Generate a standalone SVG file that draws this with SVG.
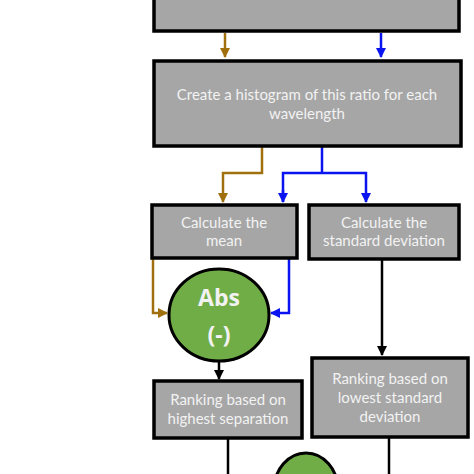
<svg xmlns="http://www.w3.org/2000/svg" width="474" height="474" viewBox="0 0 474 474">
<style>
.box{fill:#A6A6A6;stroke:#000;stroke-width:3.5}
.t{font-family:Lato,"Open Sans","Liberation Sans",sans-serif;font-size:15px;fill:#F2F2F2;text-anchor:middle}
.c{fill:#70AD47;stroke:#000;stroke-width:3}
.ct{font-family:"Open Sans","Liberation Sans",sans-serif;font-size:23px;font-weight:bold;fill:#F2F2F2;text-anchor:middle}
.k{fill:none;stroke:#000;stroke-width:2.5}
.br{fill:none;stroke:#A0700F;stroke-width:2.5}
.bl{fill:none;stroke:#0A14F0;stroke-width:2.5}
</style>
<defs>
<marker id="ak" viewBox="0 0 10 10" refX="9" refY="5" markerWidth="4" markerHeight="4" orient="auto" markerUnits="strokeWidth"><path d="M0,0L10,5L0,10z" fill="#000"/></marker>
<marker id="abr" viewBox="0 0 10 10" refX="9" refY="5" markerWidth="4" markerHeight="4" orient="auto" markerUnits="strokeWidth"><path d="M0,0L10,5L0,10z" fill="#A0700F"/></marker>
<marker id="abl" viewBox="0 0 10 10" refX="9" refY="5" markerWidth="4" markerHeight="4" orient="auto" markerUnits="strokeWidth"><path d="M0,0L10,5L0,10z" fill="#0A14F0"/></marker>
</defs>
<rect width="474" height="474" fill="#fff"/>
<g id="connectors">
<path class="br" d="M225,33V57" marker-end="url(#abr)"/>
<path class="bl" d="M381,33V57" marker-end="url(#abl)"/>
<path class="br" d="M262,147V173H223V202" marker-end="url(#abr)"/>
<path class="bl" d="M322,147V173"/>
<path class="bl" d="M283,202V173H366V202" marker-end="url(#abl)"/>
<path class="bl" d="M283,190V202" marker-end="url(#abl)"/>
<path class="br" d="M153,259V313H167" marker-end="url(#abr)"/>
<path class="bl" d="M289,259V313H271" marker-end="url(#abl)"/>
<path class="k" d="M219,361V379" marker-end="url(#ak)"/>
<path class="k" d="M382,260V355" marker-end="url(#ak)"/>
<path class="k" d="M228,439V474"/>
<path class="k" d="M389,438V474"/>
</g>
<g id="top-box"><rect class="box" x="154" y="-10" width="305" height="41"/></g>
<g id="histogram"><rect class="box" x="154" y="61" width="307" height="85"/>
<text class="t" x="307" y="100">Create a histogram of this ratio for each</text>
<text class="t" x="307" y="119">wavelength</text></g>
<g id="mean"><rect class="box" x="152" y="205" width="145" height="53"/>
<text class="t" x="224" y="228">Calculate the</text>
<text class="t" x="224" y="246">mean</text></g>
<g id="std"><rect class="box" x="309" y="205" width="150" height="54"/>
<text class="t" x="384" y="228">Calculate the</text>
<text class="t" x="384" y="246">standard deviation</text></g>
<g id="abs"><ellipse class="c" cx="219" cy="315" rx="50" ry="46"/>
<text class="ct" x="219" y="306">Abs</text>
<text class="ct" x="219" y="343">(-)</text></g>
<g id="rank-sep"><rect class="box" x="154" y="381" width="148" height="57"/>
<text class="t" x="228" y="405">Ranking based on</text>
<text class="t" x="228" y="424">highest separation</text></g>
<g id="rank-std"><rect class="box" x="312" y="358" width="156" height="79"/>
<text class="t" x="390" y="384">Ranking based on</text>
<text class="t" x="390" y="403">lowest standard</text>
<text class="t" x="390" y="422">deviation</text></g>
<g id="plus"><ellipse class="c" cx="306" cy="490" rx="32" ry="37"/>
<text class="ct" x="306" y="492">+</text></g>
</svg>
